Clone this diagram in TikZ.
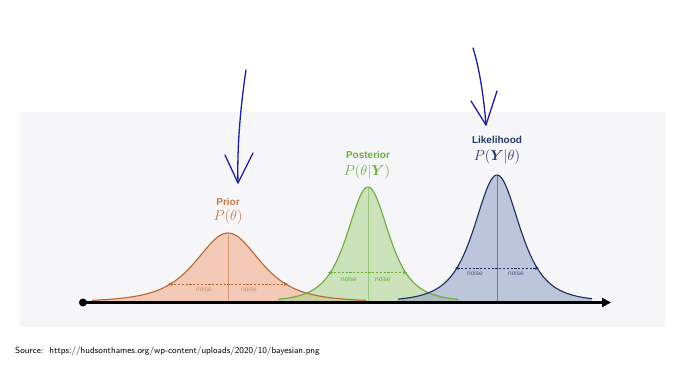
\documentclass[tikz,border=0pt]{standalone}
\usepackage{fontspec}
\usepackage{amsmath}
\usetikzlibrary{arrows.meta}
\newfontfamily\labfont{Liberation Sans}
\definecolor{panel}{HTML}{F6F5F8}
\definecolor{priorline}{HTML}{B8682F}
\definecolor{priorfill}{HTML}{F2A584}
\definecolor{priortext}{HTML}{C37A45}
\definecolor{postline}{HTML}{6AAD3C}
\definecolor{postfill}{HTML}{A9D48A}
\definecolor{posttext}{HTML}{6BAE3E}
\definecolor{likeline}{HTML}{1B2D5C}
\definecolor{likefill}{HTML}{8F9FC4}
\definecolor{liketext}{HTML}{253A6B}
\definecolor{pen}{HTML}{1F1F99}
\tikzset{
  curve/.style={line width=1.1pt, fill opacity=0.55},
  midline/.style={line width=0.4pt, opacity=0.5},
  noisearrow/.style={dash pattern=on 2.2pt off 1.6pt, line width=0.7pt, {Stealth[length=4pt,width=3.6pt]}-{Stealth[length=4pt,width=3.6pt]}},
  noisetxt/.style={font=\labfont\fontsize{6.5}{7}\selectfont, inner sep=0pt},
  title/.style={font=\labfont\bfseries\fontsize{10}{12}\selectfont, inner sep=0pt},
  formula/.style={font=\fontsize{14.5}{17}\selectfont, inner sep=0pt},
  penstroke/.style={draw=pen, line width=1.3pt, line cap=round, line join=round}
}
\begin{document}
\begin{tikzpicture}[x=1pt, y=-1pt]
\useasboundingbox (0,0) rectangle (686,386);
\fill[white] (0,0) rectangle (686,386);
\fill[panel] (20,112) rectangle (665,327);

% Prior
\path[curve, fill=priorfill]
  plot[domain=92:366, samples=120] (\x, {302 - 69/((1+((\x-228)/34)^2/3)^2)})
  -- (366,302) -- (92,302) -- cycle;
% Posterior
\path[curve, fill=postfill]
  plot[domain=278:458, samples=120] (\x, {302 - 115/((1+((\x-368)/22)^2/3)^2)})
  -- (458,302) -- (278,302) -- cycle;
% Likelihood
\path[curve, fill=likefill]
  plot[domain=398:592, samples=120] (\x, {302 - 127/((1+((\x-497)/24)^2/3)^2)})
  -- (592,302) -- (398,302) -- cycle;

% outlines
\draw[priorline, line width=1.1pt] plot[domain=92:366, samples=120] (\x, {302 - 69/((1+((\x-228)/34)^2/3)^2)});
\draw[postline, line width=1.1pt] plot[domain=278:458, samples=120] (\x, {302 - 115/((1+((\x-368)/22)^2/3)^2)});
\draw[likeline, line width=1.1pt] plot[domain=398:592, samples=120] (\x, {302 - 127/((1+((\x-497)/24)^2/3)^2)});

% centre lines
\coordinate (pk1) at (228,233); \coordinate (b1) at (228,302);
\coordinate (pk2) at (368,187); \coordinate (b2) at (368,302);
\coordinate (pk3) at (497,175); \coordinate (b3) at (497,302);
\draw[midline, priorline] (pk1) -- (b1);
\draw[midline, postline] (pk2) -- (b2);
\draw[midline, likeline] (pk3) -- (b3);

% noise arrows
\coordinate (n1l) at (168,284); \coordinate (n1r) at (288,284);
\coordinate (n2l) at (328,272.5); \coordinate (n2r) at (407,272.5);
\coordinate (n3l) at (455,268); \coordinate (n3r) at (539,268);
\draw[noisearrow, priorline] (n1l) -- (n1r);
\draw[noisearrow, postline] (n2l) -- (n2r);
\draw[noisearrow, likeline] (n3l) -- (n3r);
\node[noisetxt, text=priorline!75] (na1) at (204,289.5) {noise};
\node[noisetxt, text=priorline!75] (nb1) at (249,289.5) {noise};
\node[noisetxt, text=postline] (na2) at (349,279.5) {noise};
\node[noisetxt, text=postline] (nb2) at (383,279.5) {noise};
\node[noisetxt, text=likeline!80] (na3) at (475,273.5) {noise};
\node[noisetxt, text=likeline!80] (nb3) at (516,273.5) {noise};

% axis
\node[circle, fill=black, inner sep=0pt, minimum size=8pt] (origin) at (83,302.5) {};
\coordinate (axend) at (611,302.5);
\draw[line width=2.6pt, -{Triangle[length=9pt,width=9pt]}] (origin.center) -- (axend);

% labels
\node[title, text=priortext] (prior) at (228,202) {Prior};
\node[formula, text=priortext] (priorf) at (228,217) {$P(\theta)$};
\node[title, text=posttext] (post) at (368,155) {Posterior};
\node[formula, text=posttext] (postf) at (367,172) {$P(\theta|\boldsymbol{Y})$};
\node[title, text=liketext] (like) at (497,139.5) {Likelihood};
\node[formula, text=liketext] (likef) at (497,157) {$P(\boldsymbol{Y}|\theta)$};

% hand-drawn arrows
\coordinate (a1top) at (246,70); \coordinate (a1tip) at (238,183);
\coordinate (a1l) at (225,155); \coordinate (a1r) at (253,153);
\draw[penstroke] (a1top) .. controls (240,110) and (237,150) .. (a1tip);
\draw[penstroke] (a1l) -- (a1tip) -- (a1r);
\coordinate (a2top) at (473,48); \coordinate (a2tip) at (486,125);
\coordinate (a2l) at (471,101); \coordinate (a2r) at (497,91);
\draw[penstroke] (a2top) .. controls (480,70) and (484,100) .. (a2tip);
\draw[penstroke] (a2l) -- (a2tip) -- (a2r);

% source
\node[anchor=west, font=\sffamily\fontsize{8.9}{10}\selectfont, inner sep=0pt] (src) at (15,351) {Source:\ \ https://hudsonthames.org/wp-content/uploads/2020/10/bayesian.png};
\end{tikzpicture}
\end{document}
